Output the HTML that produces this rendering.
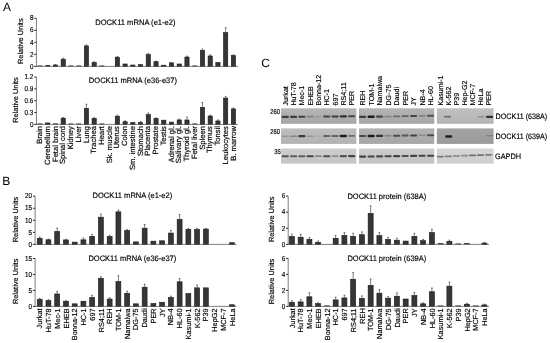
<!DOCTYPE html>
<html><head><meta charset="utf-8"><style>
html,body{margin:0;padding:0;background:#fff;}
svg{display:block;}
text{font-family:"Liberation Sans", Arial, sans-serif;fill:#000;text-rendering:geometricPrecision;stroke:#000;stroke-width:0.16px;}
</style></head><body>
<svg width="550" height="343" viewBox="0 0 550 343">
<defs><filter id="bl" x="-50%" y="-100%" width="200%" height="300%"><feGaussianBlur stdDeviation="0.45"/></filter></defs>
<rect width="550" height="343" fill="#fff"/>
<text x="3.00" y="11.30" font-size="12" text-anchor="start" style="stroke:none">A</text>
<text x="2.20" y="184.60" font-size="12" text-anchor="start" style="stroke:none">B</text>
<text x="261.30" y="66.90" font-size="12" text-anchor="start" style="stroke:none">C</text>
<rect x="37.60" y="65.50" width="4.80" height="0.90" fill="#262626"/>
<rect x="45.34" y="65.07" width="4.80" height="1.33" fill="#262626"/>
<rect x="53.37" y="65.01" width="4.20" height="1.39" fill="#363636" stroke="#151515" stroke-width="0.6"/>
<line x1="55.47" y1="64.71" x2="55.47" y2="64.41" stroke="#000" stroke-width="0.5"/>
<line x1="54.57" y1="64.41" x2="56.37" y2="64.41" stroke="#000" stroke-width="0.5"/>
<rect x="61.11" y="59.23" width="4.20" height="7.17" fill="#363636" stroke="#151515" stroke-width="0.6"/>
<line x1="63.21" y1="58.93" x2="63.21" y2="58.09" stroke="#000" stroke-width="0.5"/>
<line x1="62.31" y1="58.09" x2="64.11" y2="58.09" stroke="#000" stroke-width="0.5"/>
<rect x="68.54" y="65.50" width="4.80" height="0.90" fill="#262626"/>
<rect x="76.28" y="65.50" width="4.80" height="0.90" fill="#262626"/>
<rect x="84.32" y="45.91" width="4.20" height="20.49" fill="#363636" stroke="#151515" stroke-width="0.6"/>
<line x1="86.42" y1="45.61" x2="86.42" y2="44.89" stroke="#000" stroke-width="0.5"/>
<line x1="85.52" y1="44.89" x2="87.32" y2="44.89" stroke="#000" stroke-width="0.5"/>
<rect x="92.05" y="62.42" width="4.20" height="3.98" fill="#363636" stroke="#151515" stroke-width="0.6"/>
<line x1="94.15" y1="62.12" x2="94.15" y2="61.82" stroke="#000" stroke-width="0.5"/>
<line x1="93.25" y1="61.82" x2="95.05" y2="61.82" stroke="#000" stroke-width="0.5"/>
<rect x="99.49" y="65.50" width="4.80" height="0.90" fill="#262626"/>
<rect x="115.26" y="57.24" width="4.20" height="9.16" fill="#363636" stroke="#151515" stroke-width="0.6"/>
<line x1="117.36" y1="56.94" x2="117.36" y2="56.40" stroke="#000" stroke-width="0.5"/>
<line x1="116.46" y1="56.40" x2="118.26" y2="56.40" stroke="#000" stroke-width="0.5"/>
<rect x="123.00" y="63.99" width="4.20" height="2.41" fill="#363636" stroke="#151515" stroke-width="0.6"/>
<rect x="130.73" y="65.01" width="4.20" height="1.39" fill="#363636" stroke="#151515" stroke-width="0.6"/>
<rect x="138.47" y="64.59" width="4.20" height="1.81" fill="#363636" stroke="#151515" stroke-width="0.6"/>
<rect x="146.20" y="54.65" width="4.20" height="11.75" fill="#363636" stroke="#151515" stroke-width="0.6"/>
<line x1="148.30" y1="54.35" x2="148.30" y2="53.33" stroke="#000" stroke-width="0.5"/>
<line x1="147.40" y1="53.33" x2="149.20" y2="53.33" stroke="#000" stroke-width="0.5"/>
<rect x="153.94" y="61.70" width="4.20" height="4.70" fill="#363636" stroke="#151515" stroke-width="0.6"/>
<line x1="156.04" y1="61.40" x2="156.04" y2="61.10" stroke="#000" stroke-width="0.5"/>
<line x1="155.14" y1="61.10" x2="156.94" y2="61.10" stroke="#000" stroke-width="0.5"/>
<rect x="161.68" y="65.19" width="4.20" height="1.21" fill="#363636" stroke="#151515" stroke-width="0.6"/>
<rect x="169.41" y="62.78" width="4.20" height="3.62" fill="#363636" stroke="#151515" stroke-width="0.6"/>
<rect x="177.15" y="63.99" width="4.20" height="2.41" fill="#363636" stroke="#151515" stroke-width="0.6"/>
<rect x="184.88" y="57.06" width="4.20" height="9.34" fill="#363636" stroke="#151515" stroke-width="0.6"/>
<line x1="186.98" y1="56.76" x2="186.98" y2="56.16" stroke="#000" stroke-width="0.5"/>
<line x1="186.08" y1="56.16" x2="187.88" y2="56.16" stroke="#000" stroke-width="0.5"/>
<rect x="192.32" y="65.50" width="4.80" height="0.90" fill="#262626"/>
<rect x="200.36" y="50.43" width="4.20" height="15.97" fill="#363636" stroke="#151515" stroke-width="0.6"/>
<line x1="202.46" y1="50.13" x2="202.46" y2="49.17" stroke="#000" stroke-width="0.5"/>
<line x1="201.56" y1="49.17" x2="203.36" y2="49.17" stroke="#000" stroke-width="0.5"/>
<rect x="208.09" y="55.98" width="4.20" height="10.42" fill="#363636" stroke="#151515" stroke-width="0.6"/>
<line x1="210.19" y1="55.68" x2="210.19" y2="54.77" stroke="#000" stroke-width="0.5"/>
<line x1="209.29" y1="54.77" x2="211.09" y2="54.77" stroke="#000" stroke-width="0.5"/>
<rect x="215.83" y="62.48" width="4.20" height="3.92" fill="#363636" stroke="#151515" stroke-width="0.6"/>
<rect x="223.56" y="32.54" width="4.20" height="33.86" fill="#363636" stroke="#151515" stroke-width="0.6"/>
<line x1="225.66" y1="32.24" x2="225.66" y2="27.72" stroke="#000" stroke-width="0.5"/>
<line x1="224.76" y1="27.72" x2="226.56" y2="27.72" stroke="#000" stroke-width="0.5"/>
<rect x="231.30" y="55.67" width="4.20" height="10.73" fill="#363636" stroke="#151515" stroke-width="0.6"/>
<line x1="233.40" y1="55.37" x2="233.40" y2="54.77" stroke="#000" stroke-width="0.5"/>
<line x1="232.50" y1="54.77" x2="234.30" y2="54.77" stroke="#000" stroke-width="0.5"/>
<line x1="36.40" y1="18.20" x2="36.40" y2="66.75" stroke="#444" stroke-width="0.7"/>
<line x1="36.40" y1="66.40" x2="238.00" y2="66.40" stroke="#4a4a4a" stroke-width="0.7"/>
<line x1="34.20" y1="66.40" x2="36.40" y2="66.40" stroke="#000" stroke-width="0.8"/>
<text font-size="7.2" text-anchor="end" transform="translate(33.40 68.60) scale(0.88,1)">0</text>
<line x1="34.20" y1="54.35" x2="36.40" y2="54.35" stroke="#000" stroke-width="0.8"/>
<text font-size="7.2" text-anchor="end" transform="translate(33.40 56.55) scale(0.88,1)">2</text>
<line x1="34.20" y1="42.30" x2="36.40" y2="42.30" stroke="#000" stroke-width="0.8"/>
<text font-size="7.2" text-anchor="end" transform="translate(33.40 44.50) scale(0.88,1)">4</text>
<line x1="34.20" y1="30.25" x2="36.40" y2="30.25" stroke="#000" stroke-width="0.8"/>
<text font-size="7.2" text-anchor="end" transform="translate(33.40 32.45) scale(0.88,1)">6</text>
<line x1="34.20" y1="18.20" x2="36.40" y2="18.20" stroke="#000" stroke-width="0.8"/>
<text font-size="7.2" text-anchor="end" transform="translate(33.40 20.40) scale(0.88,1)">8</text>
<text font-size="7.4" text-anchor="middle" transform="translate(23.20 41.20) rotate(-90) scale(1.0,1)">Relative Units</text>
<text x="95.25" y="24.50" font-size="7.9" text-anchor="start" textLength="80.30" lengthAdjust="spacingAndGlyphs">DOCK11 mRNA (e1-e2)</text>
<rect x="37.60" y="123.50" width="4.80" height="0.90" fill="#262626"/>
<rect x="45.64" y="122.92" width="4.20" height="1.48" fill="#363636" stroke="#151515" stroke-width="0.6"/>
<rect x="53.07" y="123.41" width="4.80" height="0.99" fill="#262626"/>
<rect x="61.11" y="118.18" width="4.20" height="6.22" fill="#363636" stroke="#151515" stroke-width="0.6"/>
<line x1="63.21" y1="117.88" x2="63.21" y2="117.49" stroke="#000" stroke-width="0.5"/>
<line x1="62.31" y1="117.49" x2="64.11" y2="117.49" stroke="#000" stroke-width="0.5"/>
<rect x="68.54" y="123.50" width="4.80" height="0.90" fill="#262626"/>
<rect x="76.28" y="123.50" width="4.80" height="0.90" fill="#262626"/>
<rect x="84.32" y="108.31" width="4.20" height="16.09" fill="#363636" stroke="#151515" stroke-width="0.6"/>
<line x1="86.42" y1="108.01" x2="86.42" y2="104.25" stroke="#000" stroke-width="0.5"/>
<line x1="85.52" y1="104.25" x2="87.32" y2="104.25" stroke="#000" stroke-width="0.5"/>
<rect x="92.05" y="118.38" width="4.20" height="6.02" fill="#363636" stroke="#151515" stroke-width="0.6"/>
<line x1="94.15" y1="118.08" x2="94.15" y2="117.69" stroke="#000" stroke-width="0.5"/>
<line x1="93.25" y1="117.69" x2="95.05" y2="117.69" stroke="#000" stroke-width="0.5"/>
<rect x="99.49" y="123.50" width="4.80" height="0.90" fill="#262626"/>
<rect x="115.26" y="116.21" width="4.20" height="8.19" fill="#363636" stroke="#151515" stroke-width="0.6"/>
<line x1="117.36" y1="115.91" x2="117.36" y2="115.12" stroke="#000" stroke-width="0.5"/>
<line x1="116.46" y1="115.12" x2="118.26" y2="115.12" stroke="#000" stroke-width="0.5"/>
<rect x="123.00" y="121.74" width="4.20" height="2.66" fill="#363636" stroke="#151515" stroke-width="0.6"/>
<line x1="125.10" y1="121.44" x2="125.10" y2="120.84" stroke="#000" stroke-width="0.5"/>
<line x1="124.20" y1="120.84" x2="126.00" y2="120.84" stroke="#000" stroke-width="0.5"/>
<rect x="130.73" y="122.53" width="4.20" height="1.87" fill="#363636" stroke="#151515" stroke-width="0.6"/>
<rect x="138.47" y="122.53" width="4.20" height="1.87" fill="#363636" stroke="#151515" stroke-width="0.6"/>
<line x1="140.57" y1="122.23" x2="140.57" y2="121.64" stroke="#000" stroke-width="0.5"/>
<line x1="139.67" y1="121.64" x2="141.47" y2="121.64" stroke="#000" stroke-width="0.5"/>
<rect x="146.20" y="114.63" width="4.20" height="9.77" fill="#363636" stroke="#151515" stroke-width="0.6"/>
<line x1="148.30" y1="114.33" x2="148.30" y2="112.95" stroke="#000" stroke-width="0.5"/>
<line x1="147.40" y1="112.95" x2="149.20" y2="112.95" stroke="#000" stroke-width="0.5"/>
<rect x="153.94" y="118.58" width="4.20" height="5.82" fill="#363636" stroke="#151515" stroke-width="0.6"/>
<line x1="156.04" y1="118.28" x2="156.04" y2="117.88" stroke="#000" stroke-width="0.5"/>
<line x1="155.14" y1="117.88" x2="156.94" y2="117.88" stroke="#000" stroke-width="0.5"/>
<rect x="161.68" y="120.16" width="4.20" height="4.24" fill="#363636" stroke="#151515" stroke-width="0.6"/>
<rect x="169.41" y="122.13" width="4.20" height="2.27" fill="#363636" stroke="#151515" stroke-width="0.6"/>
<rect x="177.15" y="119.96" width="4.20" height="4.44" fill="#363636" stroke="#151515" stroke-width="0.6"/>
<line x1="179.25" y1="119.66" x2="179.25" y2="119.07" stroke="#000" stroke-width="0.5"/>
<line x1="178.35" y1="119.07" x2="180.15" y2="119.07" stroke="#000" stroke-width="0.5"/>
<rect x="184.88" y="119.96" width="4.20" height="4.44" fill="#363636" stroke="#151515" stroke-width="0.6"/>
<line x1="186.98" y1="119.66" x2="186.98" y2="117.09" stroke="#000" stroke-width="0.5"/>
<line x1="186.08" y1="117.09" x2="187.88" y2="117.09" stroke="#000" stroke-width="0.5"/>
<rect x="192.32" y="123.50" width="4.80" height="0.90" fill="#262626"/>
<rect x="200.36" y="107.32" width="4.20" height="17.08" fill="#363636" stroke="#151515" stroke-width="0.6"/>
<line x1="202.46" y1="107.02" x2="202.46" y2="102.48" stroke="#000" stroke-width="0.5"/>
<line x1="201.56" y1="102.48" x2="203.36" y2="102.48" stroke="#000" stroke-width="0.5"/>
<rect x="208.09" y="116.01" width="4.20" height="8.39" fill="#363636" stroke="#151515" stroke-width="0.6"/>
<line x1="210.19" y1="115.71" x2="210.19" y2="115.12" stroke="#000" stroke-width="0.5"/>
<line x1="209.29" y1="115.12" x2="211.09" y2="115.12" stroke="#000" stroke-width="0.5"/>
<rect x="215.83" y="120.95" width="4.20" height="3.45" fill="#363636" stroke="#151515" stroke-width="0.6"/>
<line x1="217.93" y1="120.65" x2="217.93" y2="119.86" stroke="#000" stroke-width="0.5"/>
<line x1="217.03" y1="119.86" x2="218.83" y2="119.86" stroke="#000" stroke-width="0.5"/>
<rect x="223.56" y="98.04" width="4.20" height="26.36" fill="#363636" stroke="#151515" stroke-width="0.6"/>
<line x1="225.66" y1="97.74" x2="225.66" y2="96.36" stroke="#000" stroke-width="0.5"/>
<line x1="224.76" y1="96.36" x2="226.56" y2="96.36" stroke="#000" stroke-width="0.5"/>
<rect x="231.30" y="108.90" width="4.20" height="15.50" fill="#363636" stroke="#151515" stroke-width="0.6"/>
<line x1="233.40" y1="108.60" x2="233.40" y2="108.01" stroke="#000" stroke-width="0.5"/>
<line x1="232.50" y1="108.01" x2="234.30" y2="108.01" stroke="#000" stroke-width="0.5"/>
<line x1="36.40" y1="77.00" x2="36.40" y2="124.75" stroke="#444" stroke-width="0.7"/>
<line x1="36.40" y1="124.40" x2="238.00" y2="124.40" stroke="#4a4a4a" stroke-width="0.7"/>
<line x1="34.20" y1="124.40" x2="36.40" y2="124.40" stroke="#000" stroke-width="0.8"/>
<text font-size="7.2" text-anchor="end" transform="translate(33.40 126.60) scale(0.88,1)">0</text>
<line x1="34.20" y1="112.55" x2="36.40" y2="112.55" stroke="#000" stroke-width="0.8"/>
<text font-size="7.2" text-anchor="end" transform="translate(33.40 114.75) scale(0.88,1)">0.3</text>
<line x1="34.20" y1="100.70" x2="36.40" y2="100.70" stroke="#000" stroke-width="0.8"/>
<text font-size="7.2" text-anchor="end" transform="translate(33.40 102.90) scale(0.88,1)">0.6</text>
<line x1="34.20" y1="88.85" x2="36.40" y2="88.85" stroke="#000" stroke-width="0.8"/>
<text font-size="7.2" text-anchor="end" transform="translate(33.40 91.05) scale(0.88,1)">0.9</text>
<line x1="34.20" y1="77.00" x2="36.40" y2="77.00" stroke="#000" stroke-width="0.8"/>
<text font-size="7.2" text-anchor="end" transform="translate(33.40 79.20) scale(0.88,1)">1.2</text>
<text font-size="7.4" text-anchor="middle" transform="translate(17.80 100.00) rotate(-90) scale(1.0,1)">Relative Units</text>
<text x="88.85" y="82.80" font-size="7.9" text-anchor="start" textLength="88.10" lengthAdjust="spacingAndGlyphs">DOCK11 mRNA (e36-e37)</text>
<text font-size="7.6" text-anchor="end" transform="translate(42.10 126.10) rotate(-90) scale(1.0,1)">Brain</text>
<text font-size="7.6" text-anchor="end" transform="translate(49.84 126.10) rotate(-90) scale(1.0,1)">Cerebellum</text>
<text font-size="7.6" text-anchor="end" transform="translate(57.57 126.10) rotate(-90) scale(1.0,1)">Fetal brain</text>
<text font-size="7.6" text-anchor="end" transform="translate(65.31 126.10) rotate(-90) scale(1.0,1)">Spinal cord</text>
<text font-size="7.6" text-anchor="end" transform="translate(73.04 126.10) rotate(-90) scale(1.0,1)">Kidney</text>
<text font-size="7.6" text-anchor="end" transform="translate(80.78 126.10) rotate(-90) scale(1.0,1)">Liver</text>
<text font-size="7.6" text-anchor="end" transform="translate(88.52 126.10) rotate(-90) scale(1.0,1)">Lung</text>
<text font-size="7.6" text-anchor="end" transform="translate(96.25 126.10) rotate(-90) scale(1.0,1)">Trachea</text>
<text font-size="7.6" text-anchor="end" transform="translate(103.99 126.10) rotate(-90) scale(1.0,1)">Heart</text>
<text font-size="7.6" text-anchor="end" transform="translate(111.72 126.10) rotate(-90) scale(1.0,1)">Sk. muscle</text>
<text font-size="7.6" text-anchor="end" transform="translate(119.46 126.10) rotate(-90) scale(1.0,1)">Uterus</text>
<text font-size="7.6" text-anchor="end" transform="translate(127.20 126.10) rotate(-90) scale(1.0,1)">Colon</text>
<text font-size="7.6" text-anchor="end" transform="translate(134.93 126.10) rotate(-90) scale(1.0,1)">Sm. intestine</text>
<text font-size="7.6" text-anchor="end" transform="translate(142.67 126.10) rotate(-90) scale(1.0,1)">Stomach</text>
<text font-size="7.6" text-anchor="end" transform="translate(150.40 126.10) rotate(-90) scale(1.0,1)">Placenta</text>
<text font-size="7.6" text-anchor="end" transform="translate(158.14 126.10) rotate(-90) scale(1.0,1)">Prostate</text>
<text font-size="7.6" text-anchor="end" transform="translate(165.88 126.10) rotate(-90) scale(1.0,1)">Testis</text>
<text font-size="7.6" text-anchor="end" transform="translate(173.61 126.10) rotate(-90) scale(1.0,1)">Adrenal gl.</text>
<text font-size="7.6" text-anchor="end" transform="translate(181.35 126.10) rotate(-90) scale(1.0,1)">Salivary gl.</text>
<text font-size="7.6" text-anchor="end" transform="translate(189.08 126.10) rotate(-90) scale(1.0,1)">Thyroid gl.</text>
<text font-size="7.6" text-anchor="end" transform="translate(196.82 126.10) rotate(-90) scale(1.0,1)">Fetal liver</text>
<text font-size="7.6" text-anchor="end" transform="translate(204.56 126.10) rotate(-90) scale(1.0,1)">Spleen</text>
<text font-size="7.6" text-anchor="end" transform="translate(212.29 126.10) rotate(-90) scale(1.0,1)">Thymus</text>
<text font-size="7.6" text-anchor="end" transform="translate(220.03 126.10) rotate(-90) scale(1.0,1)">Tonsil</text>
<text font-size="7.6" text-anchor="end" transform="translate(227.76 126.10) rotate(-90) scale(1.0,1)">Leukocytes</text>
<text font-size="7.6" text-anchor="end" transform="translate(235.50 126.10) rotate(-90) scale(1.0,1)">B. marrow</text>
<rect x="37.25" y="238.27" width="4.90" height="6.13" fill="#363636" stroke="#151515" stroke-width="0.6"/>
<line x1="39.70" y1="237.97" x2="39.70" y2="237.00" stroke="#000" stroke-width="0.5"/>
<line x1="38.80" y1="237.00" x2="40.60" y2="237.00" stroke="#000" stroke-width="0.5"/>
<rect x="45.99" y="239.83" width="4.90" height="4.57" fill="#363636" stroke="#151515" stroke-width="0.6"/>
<line x1="48.45" y1="239.53" x2="48.45" y2="239.17" stroke="#000" stroke-width="0.5"/>
<line x1="47.55" y1="239.17" x2="49.34" y2="239.17" stroke="#000" stroke-width="0.5"/>
<rect x="54.74" y="231.40" width="4.90" height="13.00" fill="#363636" stroke="#151515" stroke-width="0.6"/>
<line x1="57.19" y1="231.10" x2="57.19" y2="228.08" stroke="#000" stroke-width="0.5"/>
<line x1="56.29" y1="228.08" x2="58.09" y2="228.08" stroke="#000" stroke-width="0.5"/>
<rect x="63.48" y="239.95" width="4.90" height="4.45" fill="#363636" stroke="#151515" stroke-width="0.6"/>
<line x1="65.94" y1="239.65" x2="65.94" y2="239.29" stroke="#000" stroke-width="0.5"/>
<line x1="65.03" y1="239.29" x2="66.84" y2="239.29" stroke="#000" stroke-width="0.5"/>
<rect x="72.23" y="242.12" width="4.90" height="2.28" fill="#363636" stroke="#151515" stroke-width="0.6"/>
<rect x="80.97" y="239.83" width="4.90" height="4.57" fill="#363636" stroke="#151515" stroke-width="0.6"/>
<line x1="83.42" y1="239.53" x2="83.42" y2="238.09" stroke="#000" stroke-width="0.5"/>
<line x1="82.52" y1="238.09" x2="84.33" y2="238.09" stroke="#000" stroke-width="0.5"/>
<rect x="89.72" y="236.34" width="4.90" height="8.06" fill="#363636" stroke="#151515" stroke-width="0.6"/>
<line x1="92.17" y1="236.04" x2="92.17" y2="234.35" stroke="#000" stroke-width="0.5"/>
<line x1="91.27" y1="234.35" x2="93.07" y2="234.35" stroke="#000" stroke-width="0.5"/>
<rect x="98.46" y="217.18" width="4.90" height="27.22" fill="#363636" stroke="#151515" stroke-width="0.6"/>
<line x1="100.91" y1="216.88" x2="100.91" y2="214.11" stroke="#000" stroke-width="0.5"/>
<line x1="100.01" y1="214.11" x2="101.81" y2="214.11" stroke="#000" stroke-width="0.5"/>
<rect x="107.21" y="236.58" width="4.90" height="7.82" fill="#363636" stroke="#151515" stroke-width="0.6"/>
<line x1="109.66" y1="236.28" x2="109.66" y2="235.31" stroke="#000" stroke-width="0.5"/>
<line x1="108.76" y1="235.31" x2="110.56" y2="235.31" stroke="#000" stroke-width="0.5"/>
<rect x="115.95" y="211.88" width="4.90" height="32.52" fill="#363636" stroke="#151515" stroke-width="0.6"/>
<line x1="118.41" y1="211.58" x2="118.41" y2="210.01" stroke="#000" stroke-width="0.5"/>
<line x1="117.50" y1="210.01" x2="119.31" y2="210.01" stroke="#000" stroke-width="0.5"/>
<rect x="124.70" y="230.43" width="4.90" height="13.97" fill="#363636" stroke="#151515" stroke-width="0.6"/>
<line x1="127.15" y1="230.13" x2="127.15" y2="229.65" stroke="#000" stroke-width="0.5"/>
<line x1="126.25" y1="229.65" x2="128.05" y2="229.65" stroke="#000" stroke-width="0.5"/>
<rect x="133.44" y="241.88" width="4.90" height="2.52" fill="#363636" stroke="#151515" stroke-width="0.6"/>
<rect x="142.19" y="228.14" width="4.90" height="16.26" fill="#363636" stroke="#151515" stroke-width="0.6"/>
<line x1="144.64" y1="227.84" x2="144.64" y2="224.47" stroke="#000" stroke-width="0.5"/>
<line x1="143.74" y1="224.47" x2="145.54" y2="224.47" stroke="#000" stroke-width="0.5"/>
<rect x="150.94" y="241.16" width="4.90" height="3.24" fill="#363636" stroke="#151515" stroke-width="0.6"/>
<rect x="159.68" y="240.80" width="4.90" height="3.60" fill="#363636" stroke="#151515" stroke-width="0.6"/>
<rect x="168.43" y="233.08" width="4.90" height="11.32" fill="#363636" stroke="#151515" stroke-width="0.6"/>
<line x1="170.88" y1="232.78" x2="170.88" y2="230.49" stroke="#000" stroke-width="0.5"/>
<line x1="169.97" y1="230.49" x2="171.78" y2="230.49" stroke="#000" stroke-width="0.5"/>
<rect x="177.17" y="219.35" width="4.90" height="25.05" fill="#363636" stroke="#151515" stroke-width="0.6"/>
<line x1="179.62" y1="219.05" x2="179.62" y2="214.59" stroke="#000" stroke-width="0.5"/>
<line x1="178.72" y1="214.59" x2="180.52" y2="214.59" stroke="#000" stroke-width="0.5"/>
<rect x="185.92" y="229.35" width="4.90" height="15.05" fill="#363636" stroke="#151515" stroke-width="0.6"/>
<line x1="188.37" y1="229.05" x2="188.37" y2="228.45" stroke="#000" stroke-width="0.5"/>
<line x1="187.47" y1="228.45" x2="189.27" y2="228.45" stroke="#000" stroke-width="0.5"/>
<rect x="194.66" y="229.47" width="4.90" height="14.93" fill="#363636" stroke="#151515" stroke-width="0.6"/>
<line x1="197.11" y1="229.17" x2="197.11" y2="228.33" stroke="#000" stroke-width="0.5"/>
<line x1="196.21" y1="228.33" x2="198.01" y2="228.33" stroke="#000" stroke-width="0.5"/>
<rect x="203.40" y="229.11" width="4.90" height="15.29" fill="#363636" stroke="#151515" stroke-width="0.6"/>
<line x1="205.85" y1="228.81" x2="205.85" y2="228.45" stroke="#000" stroke-width="0.5"/>
<line x1="204.95" y1="228.45" x2="206.75" y2="228.45" stroke="#000" stroke-width="0.5"/>
<rect x="229.64" y="242.72" width="4.90" height="1.68" fill="#363636" stroke="#151515" stroke-width="0.6"/>
<line x1="35.10" y1="196.20" x2="35.10" y2="244.75" stroke="#444" stroke-width="0.7"/>
<line x1="35.10" y1="244.40" x2="236.50" y2="244.40" stroke="#4a4a4a" stroke-width="0.7"/>
<line x1="32.90" y1="244.40" x2="35.10" y2="244.40" stroke="#000" stroke-width="0.8"/>
<text font-size="7.2" text-anchor="end" transform="translate(32.10 246.60) scale(0.88,1)">0</text>
<line x1="32.90" y1="232.35" x2="35.10" y2="232.35" stroke="#000" stroke-width="0.8"/>
<text font-size="7.2" text-anchor="end" transform="translate(32.10 234.55) scale(0.88,1)">5</text>
<line x1="32.90" y1="220.30" x2="35.10" y2="220.30" stroke="#000" stroke-width="0.8"/>
<text font-size="7.2" text-anchor="end" transform="translate(32.10 222.50) scale(0.88,1)">10</text>
<line x1="32.90" y1="208.25" x2="35.10" y2="208.25" stroke="#000" stroke-width="0.8"/>
<text font-size="7.2" text-anchor="end" transform="translate(32.10 210.45) scale(0.88,1)">15</text>
<line x1="32.90" y1="196.20" x2="35.10" y2="196.20" stroke="#000" stroke-width="0.8"/>
<text font-size="7.2" text-anchor="end" transform="translate(32.10 198.40) scale(0.88,1)">20</text>
<text font-size="7.4" text-anchor="middle" transform="translate(17.80 219.50) rotate(-90) scale(1.0,1)">Relative Units</text>
<text x="92.45" y="198.20" font-size="7.9" text-anchor="start" textLength="79.80" lengthAdjust="spacingAndGlyphs">DOCK11 mRNA (e1-e2)</text>
<rect x="37.25" y="299.36" width="4.90" height="7.04" fill="#363636" stroke="#151515" stroke-width="0.6"/>
<line x1="39.70" y1="299.06" x2="39.70" y2="298.42" stroke="#000" stroke-width="0.5"/>
<line x1="38.80" y1="298.42" x2="40.60" y2="298.42" stroke="#000" stroke-width="0.5"/>
<rect x="45.99" y="300.63" width="4.90" height="5.77" fill="#363636" stroke="#151515" stroke-width="0.6"/>
<line x1="48.45" y1="300.33" x2="48.45" y2="299.69" stroke="#000" stroke-width="0.5"/>
<line x1="47.55" y1="299.69" x2="49.34" y2="299.69" stroke="#000" stroke-width="0.5"/>
<rect x="54.74" y="293.93" width="4.90" height="12.47" fill="#363636" stroke="#151515" stroke-width="0.6"/>
<line x1="57.19" y1="293.63" x2="57.19" y2="291.39" stroke="#000" stroke-width="0.5"/>
<line x1="56.29" y1="291.39" x2="58.09" y2="291.39" stroke="#000" stroke-width="0.5"/>
<rect x="63.48" y="301.27" width="4.90" height="5.13" fill="#363636" stroke="#151515" stroke-width="0.6"/>
<line x1="65.94" y1="300.97" x2="65.94" y2="300.65" stroke="#000" stroke-width="0.5"/>
<line x1="65.03" y1="300.65" x2="66.84" y2="300.65" stroke="#000" stroke-width="0.5"/>
<rect x="72.23" y="303.83" width="4.90" height="2.57" fill="#363636" stroke="#151515" stroke-width="0.6"/>
<rect x="80.97" y="301.27" width="4.90" height="5.13" fill="#363636" stroke="#151515" stroke-width="0.6"/>
<rect x="89.72" y="297.44" width="4.90" height="8.96" fill="#363636" stroke="#151515" stroke-width="0.6"/>
<line x1="92.17" y1="297.14" x2="92.17" y2="295.22" stroke="#000" stroke-width="0.5"/>
<line x1="91.27" y1="295.22" x2="93.07" y2="295.22" stroke="#000" stroke-width="0.5"/>
<rect x="98.46" y="278.28" width="4.90" height="28.12" fill="#363636" stroke="#151515" stroke-width="0.6"/>
<line x1="100.91" y1="277.98" x2="100.91" y2="276.70" stroke="#000" stroke-width="0.5"/>
<line x1="100.01" y1="276.70" x2="101.81" y2="276.70" stroke="#000" stroke-width="0.5"/>
<rect x="107.21" y="299.04" width="4.90" height="7.36" fill="#363636" stroke="#151515" stroke-width="0.6"/>
<line x1="109.66" y1="298.74" x2="109.66" y2="297.78" stroke="#000" stroke-width="0.5"/>
<line x1="108.76" y1="297.78" x2="110.56" y2="297.78" stroke="#000" stroke-width="0.5"/>
<rect x="115.95" y="281.47" width="4.90" height="24.93" fill="#363636" stroke="#151515" stroke-width="0.6"/>
<line x1="118.41" y1="281.17" x2="118.41" y2="275.74" stroke="#000" stroke-width="0.5"/>
<line x1="117.50" y1="275.74" x2="119.31" y2="275.74" stroke="#000" stroke-width="0.5"/>
<rect x="124.70" y="293.29" width="4.90" height="13.11" fill="#363636" stroke="#151515" stroke-width="0.6"/>
<line x1="127.15" y1="292.99" x2="127.15" y2="291.07" stroke="#000" stroke-width="0.5"/>
<line x1="126.25" y1="291.07" x2="128.05" y2="291.07" stroke="#000" stroke-width="0.5"/>
<rect x="133.44" y="303.83" width="4.90" height="2.57" fill="#363636" stroke="#151515" stroke-width="0.6"/>
<rect x="142.19" y="287.22" width="4.90" height="19.18" fill="#363636" stroke="#151515" stroke-width="0.6"/>
<line x1="144.64" y1="286.92" x2="144.64" y2="284.05" stroke="#000" stroke-width="0.5"/>
<line x1="143.74" y1="284.05" x2="145.54" y2="284.05" stroke="#000" stroke-width="0.5"/>
<rect x="150.94" y="303.51" width="4.90" height="2.89" fill="#363636" stroke="#151515" stroke-width="0.6"/>
<rect x="159.68" y="302.23" width="4.90" height="4.17" fill="#363636" stroke="#151515" stroke-width="0.6"/>
<rect x="168.43" y="297.44" width="4.90" height="8.96" fill="#363636" stroke="#151515" stroke-width="0.6"/>
<line x1="170.88" y1="297.14" x2="170.88" y2="296.18" stroke="#000" stroke-width="0.5"/>
<line x1="169.97" y1="296.18" x2="171.78" y2="296.18" stroke="#000" stroke-width="0.5"/>
<rect x="177.17" y="281.79" width="4.90" height="24.61" fill="#363636" stroke="#151515" stroke-width="0.6"/>
<line x1="179.62" y1="281.49" x2="179.62" y2="278.62" stroke="#000" stroke-width="0.5"/>
<line x1="178.72" y1="278.62" x2="180.52" y2="278.62" stroke="#000" stroke-width="0.5"/>
<rect x="185.92" y="293.61" width="4.90" height="12.79" fill="#363636" stroke="#151515" stroke-width="0.6"/>
<rect x="194.66" y="287.86" width="4.90" height="18.54" fill="#363636" stroke="#151515" stroke-width="0.6"/>
<line x1="197.11" y1="287.56" x2="197.11" y2="285.00" stroke="#000" stroke-width="0.5"/>
<line x1="196.21" y1="285.00" x2="198.01" y2="285.00" stroke="#000" stroke-width="0.5"/>
<rect x="203.40" y="287.86" width="4.90" height="18.54" fill="#363636" stroke="#151515" stroke-width="0.6"/>
<rect x="229.64" y="304.78" width="4.90" height="1.62" fill="#363636" stroke="#151515" stroke-width="0.6"/>
<line x1="35.10" y1="258.50" x2="35.10" y2="306.75" stroke="#444" stroke-width="0.7"/>
<line x1="35.10" y1="306.40" x2="236.50" y2="306.40" stroke="#4a4a4a" stroke-width="0.7"/>
<line x1="32.90" y1="306.40" x2="35.10" y2="306.40" stroke="#000" stroke-width="0.8"/>
<text font-size="7.2" text-anchor="end" transform="translate(32.10 308.60) scale(0.88,1)">0</text>
<line x1="32.90" y1="290.43" x2="35.10" y2="290.43" stroke="#000" stroke-width="0.8"/>
<text font-size="7.2" text-anchor="end" transform="translate(32.10 292.63) scale(0.88,1)">5</text>
<line x1="32.90" y1="274.47" x2="35.10" y2="274.47" stroke="#000" stroke-width="0.8"/>
<text font-size="7.2" text-anchor="end" transform="translate(32.10 276.67) scale(0.88,1)">10</text>
<line x1="32.90" y1="258.50" x2="35.10" y2="258.50" stroke="#000" stroke-width="0.8"/>
<text font-size="7.2" text-anchor="end" transform="translate(32.10 260.70) scale(0.88,1)">15</text>
<text font-size="7.4" text-anchor="middle" transform="translate(17.80 281.30) rotate(-90) scale(1.0,1)">Relative Units</text>
<text x="88.45" y="260.50" font-size="7.9" text-anchor="start" textLength="87.80" lengthAdjust="spacingAndGlyphs">DOCK11 mRNA (e36-e37)</text>
<text font-size="7.35" text-anchor="end" transform="translate(42.30 308.40) rotate(-90) scale(1.0,1)">Jurkat</text>
<text font-size="7.35" text-anchor="end" transform="translate(51.05 308.40) rotate(-90) scale(1.0,1)">HuT-78</text>
<text font-size="7.35" text-anchor="end" transform="translate(59.79 308.40) rotate(-90) scale(1.0,1)">Mec-1</text>
<text font-size="7.35" text-anchor="end" transform="translate(68.53 308.40) rotate(-90) scale(1.0,1)">EHEB</text>
<text font-size="7.35" text-anchor="end" transform="translate(77.28 308.40) rotate(-90) scale(1.0,1)">Bonna-12</text>
<text font-size="7.35" text-anchor="end" transform="translate(86.02 308.40) rotate(-90) scale(1.0,1)">HC-1</text>
<text font-size="7.35" text-anchor="end" transform="translate(94.77 308.40) rotate(-90) scale(1.0,1)">697</text>
<text font-size="7.35" text-anchor="end" transform="translate(103.51 308.40) rotate(-90) scale(1.0,1)">RS4;11</text>
<text font-size="7.35" text-anchor="end" transform="translate(112.26 308.40) rotate(-90) scale(1.0,1)">REH</text>
<text font-size="7.35" text-anchor="end" transform="translate(121.00 308.40) rotate(-90) scale(1.0,1)">TOM-1</text>
<text font-size="7.35" text-anchor="end" transform="translate(129.75 308.40) rotate(-90) scale(1.0,1)">Namalwa</text>
<text font-size="7.35" text-anchor="end" transform="translate(138.49 308.40) rotate(-90) scale(1.0,1)">DG-75</text>
<text font-size="7.35" text-anchor="end" transform="translate(147.24 308.40) rotate(-90) scale(1.0,1)">Daudi</text>
<text font-size="7.35" text-anchor="end" transform="translate(155.98 308.40) rotate(-90) scale(1.0,1)">PER</text>
<text font-size="7.35" text-anchor="end" transform="translate(164.73 308.40) rotate(-90) scale(1.0,1)">JY</text>
<text font-size="7.35" text-anchor="end" transform="translate(173.47 308.40) rotate(-90) scale(1.0,1)">NB-4</text>
<text font-size="7.35" text-anchor="end" transform="translate(182.22 308.40) rotate(-90) scale(1.0,1)">HL-60</text>
<text font-size="7.35" text-anchor="end" transform="translate(190.97 308.40) rotate(-90) scale(1.0,1)">Kasumi-1</text>
<text font-size="7.35" text-anchor="end" transform="translate(199.71 308.40) rotate(-90) scale(1.0,1)">K-562</text>
<text font-size="7.35" text-anchor="end" transform="translate(208.45 308.40) rotate(-90) scale(1.0,1)">P39</text>
<text font-size="7.35" text-anchor="end" transform="translate(217.20 308.40) rotate(-90) scale(1.0,1)">HepG2</text>
<text font-size="7.35" text-anchor="end" transform="translate(225.94 308.40) rotate(-90) scale(1.0,1)">MCF-7</text>
<text font-size="7.35" text-anchor="end" transform="translate(234.69 308.40) rotate(-90) scale(1.0,1)">HeLa</text>
<rect x="289.40" y="236.49" width="5.00" height="7.91" fill="#363636" stroke="#151515" stroke-width="0.6"/>
<line x1="291.90" y1="236.19" x2="291.90" y2="234.18" stroke="#000" stroke-width="0.5"/>
<line x1="291.00" y1="234.18" x2="292.80" y2="234.18" stroke="#000" stroke-width="0.5"/>
<rect x="298.15" y="237.21" width="5.00" height="7.19" fill="#363636" stroke="#151515" stroke-width="0.6"/>
<line x1="300.65" y1="236.91" x2="300.65" y2="234.34" stroke="#000" stroke-width="0.5"/>
<line x1="299.75" y1="234.34" x2="301.55" y2="234.34" stroke="#000" stroke-width="0.5"/>
<rect x="306.90" y="239.31" width="5.00" height="5.09" fill="#363636" stroke="#151515" stroke-width="0.6"/>
<line x1="309.40" y1="239.01" x2="309.40" y2="237.48" stroke="#000" stroke-width="0.5"/>
<line x1="308.50" y1="237.48" x2="310.30" y2="237.48" stroke="#000" stroke-width="0.5"/>
<rect x="315.65" y="242.29" width="5.00" height="2.12" fill="#363636" stroke="#151515" stroke-width="0.6"/>
<line x1="318.15" y1="241.99" x2="318.15" y2="240.94" stroke="#000" stroke-width="0.5"/>
<line x1="317.25" y1="240.94" x2="319.05" y2="240.94" stroke="#000" stroke-width="0.5"/>
<rect x="333.15" y="238.26" width="5.00" height="6.14" fill="#363636" stroke="#151515" stroke-width="0.6"/>
<line x1="335.65" y1="237.96" x2="335.65" y2="235.38" stroke="#000" stroke-width="0.5"/>
<line x1="334.75" y1="235.38" x2="336.55" y2="235.38" stroke="#000" stroke-width="0.5"/>
<rect x="341.90" y="235.36" width="5.00" height="9.04" fill="#363636" stroke="#151515" stroke-width="0.6"/>
<line x1="344.40" y1="235.06" x2="344.40" y2="232.41" stroke="#000" stroke-width="0.5"/>
<line x1="343.50" y1="232.41" x2="345.30" y2="232.41" stroke="#000" stroke-width="0.5"/>
<rect x="350.65" y="236.33" width="5.00" height="8.07" fill="#363636" stroke="#151515" stroke-width="0.6"/>
<line x1="353.15" y1="236.03" x2="353.15" y2="233.29" stroke="#000" stroke-width="0.5"/>
<line x1="352.25" y1="233.29" x2="354.05" y2="233.29" stroke="#000" stroke-width="0.5"/>
<rect x="359.40" y="234.72" width="5.00" height="9.68" fill="#363636" stroke="#151515" stroke-width="0.6"/>
<line x1="361.90" y1="234.42" x2="361.90" y2="231.92" stroke="#000" stroke-width="0.5"/>
<line x1="361.00" y1="231.92" x2="362.80" y2="231.92" stroke="#000" stroke-width="0.5"/>
<rect x="368.15" y="213.39" width="5.00" height="31.01" fill="#363636" stroke="#151515" stroke-width="0.6"/>
<line x1="370.65" y1="213.09" x2="370.65" y2="205.92" stroke="#000" stroke-width="0.5"/>
<line x1="369.75" y1="205.92" x2="371.55" y2="205.92" stroke="#000" stroke-width="0.5"/>
<rect x="376.90" y="235.68" width="5.00" height="8.72" fill="#363636" stroke="#151515" stroke-width="0.6"/>
<line x1="379.40" y1="235.38" x2="379.40" y2="232.57" stroke="#000" stroke-width="0.5"/>
<line x1="378.50" y1="232.57" x2="380.30" y2="232.57" stroke="#000" stroke-width="0.5"/>
<rect x="385.65" y="239.47" width="5.00" height="4.93" fill="#363636" stroke="#151515" stroke-width="0.6"/>
<line x1="388.15" y1="239.17" x2="388.15" y2="237.40" stroke="#000" stroke-width="0.5"/>
<line x1="387.25" y1="237.40" x2="389.05" y2="237.40" stroke="#000" stroke-width="0.5"/>
<rect x="394.40" y="240.19" width="5.00" height="4.21" fill="#363636" stroke="#151515" stroke-width="0.6"/>
<line x1="396.90" y1="239.89" x2="396.90" y2="238.20" stroke="#000" stroke-width="0.5"/>
<line x1="396.00" y1="238.20" x2="397.80" y2="238.20" stroke="#000" stroke-width="0.5"/>
<rect x="403.15" y="241.08" width="5.00" height="3.32" fill="#363636" stroke="#151515" stroke-width="0.6"/>
<rect x="411.90" y="236.33" width="5.00" height="8.07" fill="#363636" stroke="#151515" stroke-width="0.6"/>
<line x1="414.40" y1="236.03" x2="414.40" y2="233.29" stroke="#000" stroke-width="0.5"/>
<line x1="413.50" y1="233.29" x2="415.30" y2="233.29" stroke="#000" stroke-width="0.5"/>
<rect x="420.65" y="240.68" width="5.00" height="3.73" fill="#363636" stroke="#151515" stroke-width="0.6"/>
<line x1="423.15" y1="240.38" x2="423.15" y2="239.33" stroke="#000" stroke-width="0.5"/>
<line x1="422.25" y1="239.33" x2="424.05" y2="239.33" stroke="#000" stroke-width="0.5"/>
<rect x="429.40" y="232.62" width="5.00" height="11.78" fill="#363636" stroke="#151515" stroke-width="0.6"/>
<line x1="431.90" y1="232.32" x2="431.90" y2="229.27" stroke="#000" stroke-width="0.5"/>
<line x1="431.00" y1="229.27" x2="432.80" y2="229.27" stroke="#000" stroke-width="0.5"/>
<rect x="437.85" y="243.19" width="5.60" height="1.21" fill="#262626"/>
<rect x="446.90" y="241.32" width="5.00" height="3.08" fill="#363636" stroke="#151515" stroke-width="0.6"/>
<line x1="449.40" y1="241.02" x2="449.40" y2="240.13" stroke="#000" stroke-width="0.5"/>
<line x1="448.50" y1="240.13" x2="450.30" y2="240.13" stroke="#000" stroke-width="0.5"/>
<rect x="455.35" y="243.50" width="5.60" height="0.90" fill="#262626"/>
<rect x="464.10" y="243.19" width="5.60" height="1.21" fill="#262626"/>
<rect x="481.90" y="243.09" width="5.00" height="1.31" fill="#363636" stroke="#151515" stroke-width="0.6"/>
<line x1="484.40" y1="242.79" x2="484.40" y2="242.31" stroke="#000" stroke-width="0.5"/>
<line x1="483.50" y1="242.31" x2="485.30" y2="242.31" stroke="#000" stroke-width="0.5"/>
<line x1="288.20" y1="196.10" x2="288.20" y2="244.75" stroke="#444" stroke-width="0.7"/>
<line x1="288.20" y1="244.40" x2="489.00" y2="244.40" stroke="#4a4a4a" stroke-width="0.7"/>
<line x1="286.00" y1="244.40" x2="288.20" y2="244.40" stroke="#000" stroke-width="0.8"/>
<text font-size="7.2" text-anchor="end" transform="translate(285.20 246.60) scale(0.88,1)">0</text>
<line x1="286.00" y1="228.30" x2="288.20" y2="228.30" stroke="#000" stroke-width="0.8"/>
<text font-size="7.2" text-anchor="end" transform="translate(285.20 230.50) scale(0.88,1)">2</text>
<line x1="286.00" y1="212.20" x2="288.20" y2="212.20" stroke="#000" stroke-width="0.8"/>
<text font-size="7.2" text-anchor="end" transform="translate(285.20 214.40) scale(0.88,1)">4</text>
<line x1="286.00" y1="196.10" x2="288.20" y2="196.10" stroke="#000" stroke-width="0.8"/>
<text font-size="7.2" text-anchor="end" transform="translate(285.20 198.30) scale(0.88,1)">6</text>
<text font-size="7.4" text-anchor="middle" transform="translate(274.40 219.30) rotate(-90) scale(1.0,1)">Relative Units</text>
<text x="347.45" y="198.50" font-size="7.9" text-anchor="start" textLength="78.80" lengthAdjust="spacingAndGlyphs">DOCK11 protein (638A)</text>
<rect x="289.40" y="302.30" width="5.00" height="4.10" fill="#363636" stroke="#151515" stroke-width="0.6"/>
<line x1="291.90" y1="302.00" x2="291.90" y2="300.72" stroke="#000" stroke-width="0.5"/>
<line x1="291.00" y1="300.72" x2="292.80" y2="300.72" stroke="#000" stroke-width="0.5"/>
<rect x="298.15" y="301.90" width="5.00" height="4.50" fill="#363636" stroke="#151515" stroke-width="0.6"/>
<line x1="300.65" y1="301.60" x2="300.65" y2="299.60" stroke="#000" stroke-width="0.5"/>
<line x1="299.75" y1="299.60" x2="301.55" y2="299.60" stroke="#000" stroke-width="0.5"/>
<rect x="306.90" y="296.78" width="5.00" height="9.62" fill="#363636" stroke="#151515" stroke-width="0.6"/>
<line x1="309.40" y1="296.48" x2="309.40" y2="292.72" stroke="#000" stroke-width="0.5"/>
<line x1="308.50" y1="292.72" x2="310.30" y2="292.72" stroke="#000" stroke-width="0.5"/>
<rect x="315.65" y="303.66" width="5.00" height="2.74" fill="#363636" stroke="#151515" stroke-width="0.6"/>
<line x1="318.15" y1="303.36" x2="318.15" y2="302.80" stroke="#000" stroke-width="0.5"/>
<line x1="317.25" y1="302.80" x2="319.05" y2="302.80" stroke="#000" stroke-width="0.5"/>
<rect x="324.10" y="305.44" width="5.60" height="0.96" fill="#262626"/>
<rect x="333.15" y="299.90" width="5.00" height="6.50" fill="#363636" stroke="#151515" stroke-width="0.6"/>
<line x1="335.65" y1="299.60" x2="335.65" y2="297.20" stroke="#000" stroke-width="0.5"/>
<line x1="334.75" y1="297.20" x2="336.55" y2="297.20" stroke="#000" stroke-width="0.5"/>
<rect x="341.90" y="297.90" width="5.00" height="8.50" fill="#363636" stroke="#151515" stroke-width="0.6"/>
<line x1="344.40" y1="297.60" x2="344.40" y2="295.20" stroke="#000" stroke-width="0.5"/>
<line x1="343.50" y1="295.20" x2="345.30" y2="295.20" stroke="#000" stroke-width="0.5"/>
<rect x="350.65" y="279.26" width="5.00" height="27.14" fill="#363636" stroke="#151515" stroke-width="0.6"/>
<line x1="353.15" y1="278.96" x2="353.15" y2="272.40" stroke="#000" stroke-width="0.5"/>
<line x1="352.25" y1="272.40" x2="354.05" y2="272.40" stroke="#000" stroke-width="0.5"/>
<rect x="359.40" y="298.38" width="5.00" height="8.02" fill="#363636" stroke="#151515" stroke-width="0.6"/>
<line x1="361.90" y1="298.08" x2="361.90" y2="295.92" stroke="#000" stroke-width="0.5"/>
<line x1="361.00" y1="295.92" x2="362.80" y2="295.92" stroke="#000" stroke-width="0.5"/>
<rect x="368.15" y="285.34" width="5.00" height="21.06" fill="#363636" stroke="#151515" stroke-width="0.6"/>
<line x1="370.65" y1="285.04" x2="370.65" y2="278.96" stroke="#000" stroke-width="0.5"/>
<line x1="369.75" y1="278.96" x2="371.55" y2="278.96" stroke="#000" stroke-width="0.5"/>
<rect x="376.90" y="293.18" width="5.00" height="13.22" fill="#363636" stroke="#151515" stroke-width="0.6"/>
<line x1="379.40" y1="292.88" x2="379.40" y2="289.44" stroke="#000" stroke-width="0.5"/>
<line x1="378.50" y1="289.44" x2="380.30" y2="289.44" stroke="#000" stroke-width="0.5"/>
<rect x="385.65" y="298.14" width="5.00" height="8.26" fill="#363636" stroke="#151515" stroke-width="0.6"/>
<line x1="388.15" y1="297.84" x2="388.15" y2="296.40" stroke="#000" stroke-width="0.5"/>
<line x1="387.25" y1="296.40" x2="389.05" y2="296.40" stroke="#000" stroke-width="0.5"/>
<rect x="394.40" y="296.22" width="5.00" height="10.18" fill="#363636" stroke="#151515" stroke-width="0.6"/>
<line x1="396.90" y1="295.92" x2="396.90" y2="292.88" stroke="#000" stroke-width="0.5"/>
<line x1="396.00" y1="292.88" x2="397.80" y2="292.88" stroke="#000" stroke-width="0.5"/>
<rect x="403.15" y="299.02" width="5.00" height="7.38" fill="#363636" stroke="#151515" stroke-width="0.6"/>
<rect x="411.90" y="295.50" width="5.00" height="10.90" fill="#363636" stroke="#151515" stroke-width="0.6"/>
<line x1="414.40" y1="295.20" x2="414.40" y2="292.48" stroke="#000" stroke-width="0.5"/>
<line x1="413.50" y1="292.48" x2="415.30" y2="292.48" stroke="#000" stroke-width="0.5"/>
<rect x="420.65" y="303.82" width="5.00" height="2.58" fill="#363636" stroke="#151515" stroke-width="0.6"/>
<line x1="423.15" y1="303.52" x2="423.15" y2="302.88" stroke="#000" stroke-width="0.5"/>
<line x1="422.25" y1="302.88" x2="424.05" y2="302.88" stroke="#000" stroke-width="0.5"/>
<rect x="429.40" y="291.74" width="5.00" height="14.66" fill="#363636" stroke="#151515" stroke-width="0.6"/>
<line x1="431.90" y1="291.44" x2="431.90" y2="288.00" stroke="#000" stroke-width="0.5"/>
<line x1="431.00" y1="288.00" x2="432.80" y2="288.00" stroke="#000" stroke-width="0.5"/>
<rect x="437.85" y="305.50" width="5.60" height="0.90" fill="#262626"/>
<rect x="446.90" y="286.14" width="5.00" height="20.26" fill="#363636" stroke="#151515" stroke-width="0.6"/>
<line x1="449.40" y1="285.84" x2="449.40" y2="282.00" stroke="#000" stroke-width="0.5"/>
<line x1="448.50" y1="282.00" x2="450.30" y2="282.00" stroke="#000" stroke-width="0.5"/>
<rect x="455.35" y="305.50" width="5.60" height="0.90" fill="#262626"/>
<rect x="464.40" y="304.22" width="5.00" height="2.18" fill="#363636" stroke="#151515" stroke-width="0.6"/>
<line x1="466.90" y1="303.92" x2="466.90" y2="303.36" stroke="#000" stroke-width="0.5"/>
<line x1="466.00" y1="303.36" x2="467.80" y2="303.36" stroke="#000" stroke-width="0.5"/>
<rect x="472.85" y="305.50" width="5.60" height="0.90" fill="#262626"/>
<rect x="481.90" y="304.94" width="5.00" height="1.46" fill="#363636" stroke="#151515" stroke-width="0.6"/>
<line x1="484.40" y1="304.64" x2="484.40" y2="304.08" stroke="#000" stroke-width="0.5"/>
<line x1="483.50" y1="304.08" x2="485.30" y2="304.08" stroke="#000" stroke-width="0.5"/>
<line x1="288.20" y1="258.40" x2="288.20" y2="306.75" stroke="#444" stroke-width="0.7"/>
<line x1="288.20" y1="306.40" x2="489.00" y2="306.40" stroke="#4a4a4a" stroke-width="0.7"/>
<line x1="286.00" y1="306.40" x2="288.20" y2="306.40" stroke="#000" stroke-width="0.8"/>
<text font-size="7.2" text-anchor="end" transform="translate(285.20 308.60) scale(0.88,1)">0</text>
<line x1="286.00" y1="290.40" x2="288.20" y2="290.40" stroke="#000" stroke-width="0.8"/>
<text font-size="7.2" text-anchor="end" transform="translate(285.20 292.60) scale(0.88,1)">2</text>
<line x1="286.00" y1="274.40" x2="288.20" y2="274.40" stroke="#000" stroke-width="0.8"/>
<text font-size="7.2" text-anchor="end" transform="translate(285.20 276.60) scale(0.88,1)">4</text>
<line x1="286.00" y1="258.40" x2="288.20" y2="258.40" stroke="#000" stroke-width="0.8"/>
<text font-size="7.2" text-anchor="end" transform="translate(285.20 260.60) scale(0.88,1)">6</text>
<text font-size="7.4" text-anchor="middle" transform="translate(274.40 281.50) rotate(-90) scale(1.0,1)">Relative Units</text>
<text x="347.45" y="260.50" font-size="7.9" text-anchor="start" textLength="78.80" lengthAdjust="spacingAndGlyphs">DOCK11 protein (639A)</text>
<text font-size="7.35" text-anchor="end" transform="translate(294.50 308.30) rotate(-90) scale(1.0,1)">Jurkat</text>
<text font-size="7.35" text-anchor="end" transform="translate(303.25 308.30) rotate(-90) scale(1.0,1)">HuT-78</text>
<text font-size="7.35" text-anchor="end" transform="translate(312.00 308.30) rotate(-90) scale(1.0,1)">Mec-1</text>
<text font-size="7.35" text-anchor="end" transform="translate(320.75 308.30) rotate(-90) scale(1.0,1)">EHEB</text>
<text font-size="7.35" text-anchor="end" transform="translate(329.50 308.30) rotate(-90) scale(1.0,1)">Bonna-12</text>
<text font-size="7.35" text-anchor="end" transform="translate(338.25 308.30) rotate(-90) scale(1.0,1)">HC-1</text>
<text font-size="7.35" text-anchor="end" transform="translate(347.00 308.30) rotate(-90) scale(1.0,1)">697</text>
<text font-size="7.35" text-anchor="end" transform="translate(355.75 308.30) rotate(-90) scale(1.0,1)">RS4;11</text>
<text font-size="7.35" text-anchor="end" transform="translate(364.50 308.30) rotate(-90) scale(1.0,1)">REH</text>
<text font-size="7.35" text-anchor="end" transform="translate(373.25 308.30) rotate(-90) scale(1.0,1)">TOM-1</text>
<text font-size="7.35" text-anchor="end" transform="translate(382.00 308.30) rotate(-90) scale(1.0,1)">Namalwa</text>
<text font-size="7.35" text-anchor="end" transform="translate(390.75 308.30) rotate(-90) scale(1.0,1)">DG-75</text>
<text font-size="7.35" text-anchor="end" transform="translate(399.50 308.30) rotate(-90) scale(1.0,1)">Daudi</text>
<text font-size="7.35" text-anchor="end" transform="translate(408.25 308.30) rotate(-90) scale(1.0,1)">PER</text>
<text font-size="7.35" text-anchor="end" transform="translate(417.00 308.30) rotate(-90) scale(1.0,1)">JY</text>
<text font-size="7.35" text-anchor="end" transform="translate(425.75 308.30) rotate(-90) scale(1.0,1)">NB-4</text>
<text font-size="7.35" text-anchor="end" transform="translate(434.50 308.30) rotate(-90) scale(1.0,1)">HL-60</text>
<text font-size="7.35" text-anchor="end" transform="translate(443.25 308.30) rotate(-90) scale(1.0,1)">Kasumi-1</text>
<text font-size="7.35" text-anchor="end" transform="translate(452.00 308.30) rotate(-90) scale(1.0,1)">K-562</text>
<text font-size="7.35" text-anchor="end" transform="translate(460.75 308.30) rotate(-90) scale(1.0,1)">P39</text>
<text font-size="7.35" text-anchor="end" transform="translate(469.50 308.30) rotate(-90) scale(1.0,1)">HepG2</text>
<text font-size="7.35" text-anchor="end" transform="translate(478.25 308.30) rotate(-90) scale(1.0,1)">MCF-7</text>
<text font-size="7.35" text-anchor="end" transform="translate(487.00 308.30) rotate(-90) scale(1.0,1)">HeLa</text>
<text font-size="7.1" text-anchor="start" transform="translate(287.90 105.50) rotate(-90) scale(1.0,1)">Jurkat</text>
<text font-size="7.1" text-anchor="start" transform="translate(296.19 105.50) rotate(-90) scale(1.0,1)">HuT-78</text>
<text font-size="7.1" text-anchor="start" transform="translate(304.48 105.50) rotate(-90) scale(1.0,1)">Mec-1</text>
<text font-size="7.1" text-anchor="start" transform="translate(312.77 105.50) rotate(-90) scale(1.0,1)">EHEB</text>
<text font-size="7.1" text-anchor="start" transform="translate(321.06 105.50) rotate(-90) scale(1.0,1)">Bonna-12</text>
<text font-size="7.1" text-anchor="start" transform="translate(329.35 105.50) rotate(-90) scale(1.0,1)">HC-1</text>
<text font-size="7.1" text-anchor="start" transform="translate(337.64 105.50) rotate(-90) scale(1.0,1)">697</text>
<text font-size="7.1" text-anchor="start" transform="translate(345.93 105.50) rotate(-90) scale(1.0,1)">RS4;11</text>
<text font-size="7.1" text-anchor="start" transform="translate(354.22 105.50) rotate(-90) scale(1.0,1)">PER</text>
<linearGradient id="g1" x1="0" y1="0" x2="0" y2="1"><stop offset="0" stop-color="#b6b6b6"/><stop offset="1" stop-color="#a6a6a6"/></linearGradient>
<rect x="281.00" y="108.30" width="75.40" height="15.50" fill="url(#g1)"/>
<rect x="281.70" y="115.84" width="7.20" height="2.12" rx="1.06" fill="#1c1c1c" opacity="0.76" filter="url(#bl)"/>
<rect x="289.99" y="115.76" width="7.20" height="2.12" rx="1.06" fill="#1c1c1c" opacity="0.76" filter="url(#bl)"/>
<rect x="298.28" y="115.69" width="7.20" height="2.12" rx="1.06" fill="#1c1c1c" opacity="0.76" filter="url(#bl)"/>
<rect x="306.57" y="115.86" width="7.20" height="1.63" rx="0.82" fill="#1c1c1c" opacity="0.33" filter="url(#bl)"/>
<rect x="314.86" y="115.91" width="7.20" height="1.39" rx="0.69" fill="#1c1c1c" opacity="0.13" filter="url(#bl)"/>
<rect x="323.15" y="115.49" width="7.20" height="2.07" rx="1.04" fill="#1c1c1c" opacity="0.71" filter="url(#bl)"/>
<rect x="331.44" y="115.39" width="7.20" height="2.12" rx="1.06" fill="#1c1c1c" opacity="0.76" filter="url(#bl)"/>
<rect x="339.73" y="115.26" width="7.20" height="2.24" rx="1.12" fill="#1c1c1c" opacity="0.86" filter="url(#bl)"/>
<rect x="348.02" y="115.27" width="7.20" height="2.07" rx="1.04" fill="#1c1c1c" opacity="0.71" filter="url(#bl)"/>
<linearGradient id="g2" x1="0" y1="0" x2="0" y2="1"><stop offset="0" stop-color="#bebebe"/><stop offset="1" stop-color="#b2b2b2"/></linearGradient>
<rect x="281.00" y="128.40" width="75.40" height="15.50" fill="url(#g2)"/>
<rect x="281.70" y="135.54" width="7.20" height="1.52" rx="0.76" fill="#1c1c1c" opacity="0.24" filter="url(#bl)"/>
<rect x="289.99" y="135.44" width="7.20" height="1.63" rx="0.82" fill="#1c1c1c" opacity="0.33" filter="url(#bl)"/>
<rect x="298.28" y="135.11" width="7.20" height="2.18" rx="1.09" fill="#1c1c1c" opacity="0.81" filter="url(#bl)"/>
<rect x="306.57" y="135.40" width="7.20" height="1.50" rx="0.75" fill="#1c1c1c" opacity="0.22" filter="url(#bl)"/>
<rect x="314.86" y="135.43" width="7.20" height="1.33" rx="0.67" fill="#1c1c1c" opacity="0.08" filter="url(#bl)"/>
<rect x="323.15" y="135.12" width="7.20" height="1.85" rx="0.93" fill="#1c1c1c" opacity="0.53" filter="url(#bl)"/>
<rect x="331.44" y="135.07" width="7.20" height="1.85" rx="0.93" fill="#1c1c1c" opacity="0.53" filter="url(#bl)"/>
<rect x="339.73" y="134.75" width="7.20" height="2.40" rx="1.20" fill="#1c1c1c" opacity="1.00" filter="url(#bl)"/>
<rect x="348.02" y="135.00" width="7.20" height="1.80" rx="0.90" fill="#1c1c1c" opacity="0.48" filter="url(#bl)"/>
<linearGradient id="g3" x1="0" y1="0" x2="0" y2="1"><stop offset="0" stop-color="#cecece"/><stop offset="1" stop-color="#c4c4c4"/></linearGradient>
<rect x="281.00" y="148.50" width="75.40" height="15.10" fill="url(#g3)"/>
<rect x="281.70" y="155.29" width="7.20" height="2.02" rx="1.01" fill="#1c1c1c" opacity="0.67" filter="url(#bl)"/>
<rect x="289.99" y="155.30" width="7.20" height="1.96" rx="0.98" fill="#1c1c1c" opacity="0.62" filter="url(#bl)"/>
<rect x="298.28" y="155.27" width="7.20" height="1.96" rx="0.98" fill="#1c1c1c" opacity="0.62" filter="url(#bl)"/>
<rect x="306.57" y="155.16" width="7.20" height="2.12" rx="1.06" fill="#1c1c1c" opacity="0.76" filter="url(#bl)"/>
<rect x="314.86" y="155.36" width="7.20" height="1.69" rx="0.84" fill="#1c1c1c" opacity="0.38" filter="url(#bl)"/>
<rect x="323.15" y="155.14" width="7.20" height="2.07" rx="1.04" fill="#1c1c1c" opacity="0.71" filter="url(#bl)"/>
<rect x="331.44" y="155.34" width="7.20" height="1.63" rx="0.82" fill="#1c1c1c" opacity="0.33" filter="url(#bl)"/>
<rect x="339.73" y="155.12" width="7.20" height="2.02" rx="1.01" fill="#1c1c1c" opacity="0.67" filter="url(#bl)"/>
<rect x="348.02" y="155.04" width="7.20" height="2.12" rx="1.06" fill="#1c1c1c" opacity="0.76" filter="url(#bl)"/>
<text font-size="7.1" text-anchor="start" transform="translate(365.20 105.50) rotate(-90) scale(1.0,1)">REH</text>
<text font-size="7.1" text-anchor="start" transform="translate(373.70 105.50) rotate(-90) scale(1.0,1)">TOM-1</text>
<text font-size="7.1" text-anchor="start" transform="translate(382.20 105.50) rotate(-90) scale(1.0,1)">Namalwa</text>
<text font-size="7.1" text-anchor="start" transform="translate(390.70 105.50) rotate(-90) scale(1.0,1)">DG-75</text>
<text font-size="7.1" text-anchor="start" transform="translate(399.20 105.50) rotate(-90) scale(1.0,1)">Daudi</text>
<text font-size="7.1" text-anchor="start" transform="translate(407.70 105.50) rotate(-90) scale(1.0,1)">PER</text>
<text font-size="7.1" text-anchor="start" transform="translate(416.20 105.50) rotate(-90) scale(1.0,1)">JY</text>
<text font-size="7.1" text-anchor="start" transform="translate(424.70 105.50) rotate(-90) scale(1.0,1)">NB-4</text>
<text font-size="7.1" text-anchor="start" transform="translate(433.20 105.50) rotate(-90) scale(1.0,1)">HL-60</text>
<linearGradient id="g4" x1="0" y1="0" x2="0" y2="1"><stop offset="0" stop-color="#b4b4b4"/><stop offset="1" stop-color="#a6a6a6"/></linearGradient>
<rect x="359.00" y="108.30" width="75.30" height="15.50" fill="url(#g4)"/>
<rect x="359.00" y="115.84" width="7.20" height="2.12" rx="1.06" fill="#1c1c1c" opacity="0.76" filter="url(#bl)"/>
<rect x="367.50" y="115.55" width="7.20" height="2.40" rx="1.20" fill="#1c1c1c" opacity="1.00" filter="url(#bl)"/>
<rect x="376.00" y="115.57" width="7.20" height="2.07" rx="1.04" fill="#1c1c1c" opacity="0.71" filter="url(#bl)"/>
<rect x="384.50" y="115.66" width="7.20" height="1.58" rx="0.79" fill="#1c1c1c" opacity="0.29" filter="url(#bl)"/>
<rect x="393.00" y="115.43" width="7.20" height="1.74" rx="0.87" fill="#1c1c1c" opacity="0.43" filter="url(#bl)"/>
<rect x="401.50" y="115.23" width="7.20" height="1.85" rx="0.93" fill="#1c1c1c" opacity="0.53" filter="url(#bl)"/>
<rect x="410.00" y="114.97" width="7.20" height="2.07" rx="1.04" fill="#1c1c1c" opacity="0.71" filter="url(#bl)"/>
<rect x="418.50" y="115.06" width="7.20" height="1.58" rx="0.79" fill="#1c1c1c" opacity="0.29" filter="url(#bl)"/>
<rect x="427.00" y="114.72" width="7.20" height="1.96" rx="0.98" fill="#1c1c1c" opacity="0.62" filter="url(#bl)"/>
<linearGradient id="g5" x1="0" y1="0" x2="0" y2="1"><stop offset="0" stop-color="#b2b2b2"/><stop offset="1" stop-color="#a6a6a6"/></linearGradient>
<rect x="359.00" y="128.40" width="75.30" height="15.50" fill="url(#g5)"/>
<rect x="359.00" y="135.09" width="7.20" height="2.02" rx="1.01" fill="#1c1c1c" opacity="0.67" filter="url(#bl)"/>
<rect x="367.50" y="134.79" width="7.20" height="2.40" rx="1.20" fill="#1c1c1c" opacity="1.00" filter="url(#bl)"/>
<rect x="376.00" y="134.76" width="7.20" height="2.24" rx="1.12" fill="#1c1c1c" opacity="0.86" filter="url(#bl)"/>
<rect x="384.50" y="134.97" width="7.20" height="1.58" rx="0.79" fill="#1c1c1c" opacity="0.29" filter="url(#bl)"/>
<rect x="393.00" y="134.64" width="7.20" height="2.02" rx="1.01" fill="#1c1c1c" opacity="0.67" filter="url(#bl)"/>
<rect x="401.50" y="134.59" width="7.20" height="1.91" rx="0.95" fill="#1c1c1c" opacity="0.57" filter="url(#bl)"/>
<rect x="410.00" y="134.39" width="7.20" height="2.07" rx="1.04" fill="#1c1c1c" opacity="0.71" filter="url(#bl)"/>
<rect x="418.50" y="134.55" width="7.20" height="1.52" rx="0.76" fill="#1c1c1c" opacity="0.24" filter="url(#bl)"/>
<rect x="427.00" y="134.19" width="7.20" height="2.02" rx="1.01" fill="#1c1c1c" opacity="0.67" filter="url(#bl)"/>
<linearGradient id="g6" x1="0" y1="0" x2="0" y2="1"><stop offset="0" stop-color="#cccccc"/><stop offset="1" stop-color="#c2c2c2"/></linearGradient>
<rect x="359.00" y="148.50" width="75.30" height="15.10" fill="url(#g6)"/>
<rect x="359.00" y="155.54" width="7.20" height="2.12" rx="1.06" fill="#1c1c1c" opacity="0.76" filter="url(#bl)"/>
<rect x="367.50" y="155.42" width="7.20" height="2.12" rx="1.06" fill="#1c1c1c" opacity="0.76" filter="url(#bl)"/>
<rect x="376.00" y="155.34" width="7.20" height="2.07" rx="1.04" fill="#1c1c1c" opacity="0.71" filter="url(#bl)"/>
<rect x="384.50" y="155.20" width="7.20" height="2.12" rx="1.06" fill="#1c1c1c" opacity="0.76" filter="url(#bl)"/>
<rect x="393.00" y="155.09" width="7.20" height="2.12" rx="1.06" fill="#1c1c1c" opacity="0.76" filter="url(#bl)"/>
<rect x="401.50" y="155.00" width="7.20" height="2.07" rx="1.04" fill="#1c1c1c" opacity="0.71" filter="url(#bl)"/>
<rect x="410.00" y="154.86" width="7.20" height="2.12" rx="1.06" fill="#1c1c1c" opacity="0.76" filter="url(#bl)"/>
<rect x="418.50" y="154.75" width="7.20" height="2.12" rx="1.06" fill="#1c1c1c" opacity="0.76" filter="url(#bl)"/>
<rect x="427.00" y="154.64" width="7.20" height="2.12" rx="1.06" fill="#1c1c1c" opacity="0.76" filter="url(#bl)"/>
<text font-size="7.1" text-anchor="start" transform="translate(442.90 105.50) rotate(-90) scale(1.0,1)">Kasumi-1</text>
<text font-size="7.1" text-anchor="start" transform="translate(450.95 105.50) rotate(-90) scale(1.0,1)">K-562</text>
<text font-size="7.1" text-anchor="start" transform="translate(459.00 105.50) rotate(-90) scale(1.0,1)">P39</text>
<text font-size="7.1" text-anchor="start" transform="translate(467.05 105.50) rotate(-90) scale(1.0,1)">Hep-G2</text>
<text font-size="7.1" text-anchor="start" transform="translate(475.10 105.50) rotate(-90) scale(1.0,1)">MCF-7</text>
<text font-size="7.1" text-anchor="start" transform="translate(483.15 105.50) rotate(-90) scale(1.0,1)">HeLa</text>
<text font-size="7.1" text-anchor="start" transform="translate(491.20 105.50) rotate(-90) scale(1.0,1)">PER</text>
<linearGradient id="g7" x1="0" y1="0" x2="0" y2="1"><stop offset="0" stop-color="#c0c0c0"/><stop offset="1" stop-color="#b4b4b4"/></linearGradient>
<rect x="436.80" y="108.30" width="56.80" height="15.50" fill="url(#g7)"/>
<rect x="443.95" y="115.75" width="7.20" height="1.80" rx="0.90" fill="#1c1c1c" opacity="0.48" filter="url(#bl)"/>
<rect x="477.30" y="116.09" width="7.20" height="1.52" rx="0.76" fill="#1c1c1c" opacity="0.24" filter="url(#bl)"/>
<rect x="486.00" y="115.78" width="7.20" height="2.24" rx="1.12" fill="#1c1c1c" opacity="0.86" filter="url(#bl)"/>
<linearGradient id="g8" x1="0" y1="0" x2="0" y2="1"><stop offset="0" stop-color="#a4a4a4"/><stop offset="1" stop-color="#9a9a9a"/></linearGradient>
<rect x="436.80" y="128.40" width="56.80" height="15.50" fill="url(#g8)"/>
<rect x="445.10" y="135.36" width="7.20" height="2.34" rx="1.17" fill="#1c1c1c" opacity="0.95" filter="url(#bl)"/>
<rect x="486.00" y="134.94" width="7.20" height="1.52" rx="0.76" fill="#1c1c1c" opacity="0.24" filter="url(#bl)"/>
<linearGradient id="g9" x1="0" y1="0" x2="0" y2="1"><stop offset="0" stop-color="#d6d6d6"/><stop offset="1" stop-color="#cecece"/></linearGradient>
<rect x="436.80" y="148.50" width="56.80" height="15.10" fill="url(#g9)"/>
<rect x="436.70" y="155.70" width="7.20" height="1.80" rx="0.90" fill="#1c1c1c" opacity="0.48" filter="url(#bl)"/>
<rect x="444.75" y="155.43" width="7.20" height="1.74" rx="0.87" fill="#1c1c1c" opacity="0.43" filter="url(#bl)"/>
<rect x="452.80" y="155.13" width="7.20" height="1.74" rx="0.87" fill="#1c1c1c" opacity="0.43" filter="url(#bl)"/>
<rect x="460.85" y="154.86" width="7.20" height="1.69" rx="0.84" fill="#1c1c1c" opacity="0.38" filter="url(#bl)"/>
<rect x="468.90" y="154.47" width="7.20" height="1.85" rx="0.93" fill="#1c1c1c" opacity="0.53" filter="url(#bl)"/>
<rect x="476.95" y="154.17" width="7.20" height="1.85" rx="0.93" fill="#1c1c1c" opacity="0.53" filter="url(#bl)"/>
<rect x="485.00" y="153.90" width="7.20" height="1.80" rx="0.90" fill="#1c1c1c" opacity="0.48" filter="url(#bl)"/>
<text font-size="7.0" text-anchor="start" transform="translate(270.20 113.90) scale(0.84,1)">260</text>
<text font-size="7.0" text-anchor="start" transform="translate(270.20 133.60) scale(0.84,1)">260</text>
<text font-size="7.0" text-anchor="start" transform="translate(274.20 153.90) scale(0.84,1)">35</text>
<text font-size="7.9" text-anchor="start" transform="translate(495.60 119.40) scale(0.905,1)">DOCK11 (638A)</text>
<text font-size="7.9" text-anchor="start" transform="translate(495.60 139.00) scale(0.905,1)">DOCK11 (639A)</text>
<text font-size="7.9" text-anchor="start" transform="translate(495.00 158.60) scale(0.93,1)">GAPDH</text>
</svg>
</body></html>
